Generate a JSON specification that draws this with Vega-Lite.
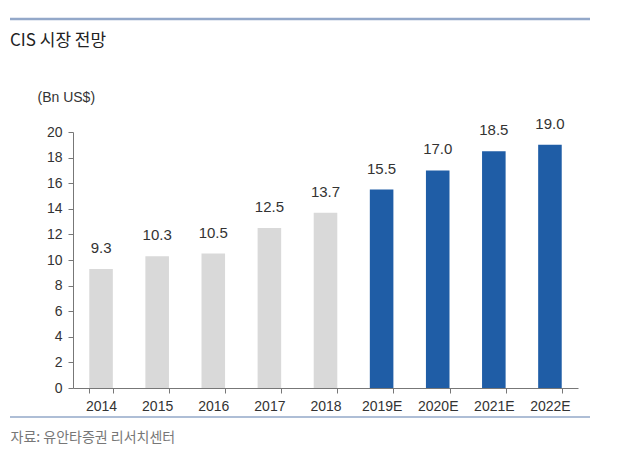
{
  "$schema": "https://vega.github.io/schema/vega-lite/v6.json",
  "autosize": "none",
  "width": 505,
  "height": 256,
  "padding": {"left": 73, "top": 132, "right": 54, "bottom": 64},
  "background": "white",
  "config": {
    "view": {"stroke": null},
    "font": "Liberation Sans, Noto Sans CJK KR",
    "text": {"font": "Liberation Sans, Noto Sans CJK KR"}
  },
  "title": {
    "text": "CIS 시장 전망",
    "anchor": "start",
    "frame": "group",
    "dx": -63,
    "dy": 36,
    "fontSize": 17,
    "fontWeight": "normal",
    "color": "#222",
    "font": "Noto Sans CJK KR"
  },
  "data": {
    "values": [
      {"year": "2014", "value": 9.3, "type": "actual"},
      {"year": "2015", "value": 10.3, "type": "actual"},
      {"year": "2016", "value": 10.5, "type": "actual"},
      {"year": "2017", "value": 12.5, "type": "actual"},
      {"year": "2018", "value": 13.7, "type": "actual"},
      {"year": "2019E", "value": 15.5, "type": "estimate"},
      {"year": "2020E", "value": 17.0, "type": "estimate"},
      {"year": "2021E", "value": 18.5, "type": "estimate"},
      {"year": "2022E", "value": 19.0, "type": "estimate"}
    ]
  },
  "encoding": {
    "x": {
      "field": "year",
      "type": "nominal",
      "sort": null,
      "scale": {"paddingInner": 0.58, "paddingOuter": 0.29},
      "axis": {
        "title": "자료: 유안타증권 리서치센터",
        "titleX": -63,
        "titleY": 42,
        "titleAlign": "left",
        "titleFontSize": 14,
        "titleFontWeight": "normal",
        "titleColor": "#777",
        "titleFont": "Noto Sans CJK KR",
        "labelAngle": 0,
        "labelFontSize": 14,
        "labelColor": "#333",
        "labelPadding": 6,
        "tickBand": "extent",
        "tickSize": 5,
        "tickColor": "#777",
        "domainColor": "#777"
      }
    },
    "y": {
      "field": "value",
      "type": "quantitative",
      "scale": {"domain": [0, 20]},
      "axis": {
        "values": [0, 2, 4, 6, 8, 10, 12, 14, 16, 18, 20],
        "grid": false,
        "title": "(Bn US$)",
        "titleAngle": 0,
        "titleX": -36,
        "titleY": -28,
        "titleAlign": "left",
        "titleFontSize": 14,
        "titleFontWeight": "normal",
        "titleColor": "#333",
        "labelFontSize": 14,
        "labelColor": "#333",
        "labelPadding": 6,
        "tickSize": 5,
        "tickColor": "#777",
        "domainColor": "#777"
      }
    }
  },
  "layer": [
    {
      "mark": {"type": "bar"},
      "encoding": {
        "color": {
          "field": "type",
          "type": "nominal",
          "scale": {"domain": ["actual", "estimate"], "range": ["#d9d9d9", "#1f5da6"]},
          "legend": null
        }
      }
    },
    {
      "mark": {"type": "text", "dy": -13, "fontSize": 15, "color": "#333", "baseline": "bottom"},
      "encoding": {
        "text": {"field": "value", "type": "quantitative", "format": ".1f"}
      }
    },
    {
      "data": {"values": [{"k": 1}]},
      "mark": {"type": "rule", "color": "#93a8c9", "strokeWidth": 2.5},
      "encoding": {
        "x": {"value": -63},
        "x2": {"value": 517},
        "y": {"value": -113}
      }
    },
    {
      "data": {"values": [{"k": 1}]},
      "mark": {"type": "rule", "color": "#93a8c9", "strokeWidth": 1.5},
      "encoding": {
        "x": {"value": -63},
        "x2": {"value": 517},
        "y": {"value": 285}
      }
    }
  ]
}
